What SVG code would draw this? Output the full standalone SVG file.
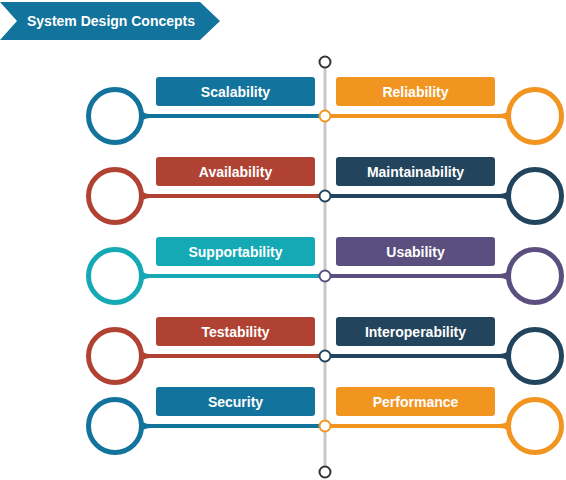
<svg xmlns="http://www.w3.org/2000/svg" width="566" height="480" viewBox="0 0 566 480">
<style>
.lbl{font-family:"Liberation Sans",Arial,sans-serif;font-weight:bold;font-size:14px;fill:#fff;text-anchor:middle}
.box{stroke:none}
.ring{fill:#fff;stroke-width:5}
.ln{stroke-width:4;fill:none}
.dot{fill:#fff;stroke-width:2}
.end{fill:#fff;stroke:#333;stroke-width:2}
</style>
<rect width="566" height="480" fill="#fff"/>
<g id="header">
<polygon points="0,2 200,2 220,21 200,40 0,40 17,21" fill="#12739C"/>
<text x="27" y="26" style="font-family:'Liberation Sans',Arial,sans-serif;font-weight:bold;font-size:14px;fill:#fff">System Design Concepts</text>
</g>
<g id="connectors">
<line x1="325" y1="66" x2="325" y2="468" stroke="#C8C8C8" stroke-width="3"/>
<!-- row 1 -->
<line class="ln" x1="142" y1="116" x2="325" y2="116" stroke="#12739C"/>
<path d="M139,108 Q143,114 150,114 L150,118 Q143,118 139,124 Z" fill="#12739C"/>
<line class="ln" x1="325" y1="116" x2="508" y2="116" stroke="#F29420"/>
<path d="M511,108 Q507,114 500,114 L500,118 Q507,118 511,124 Z" fill="#F29420"/>
<!-- row 2 -->
<line class="ln" x1="142" y1="196" x2="325" y2="196" stroke="#B04233"/>
<path d="M139,188 Q143,194 150,194 L150,198 Q143,198 139,204 Z" fill="#B04233"/>
<line class="ln" x1="325" y1="196" x2="508" y2="196" stroke="#22445C"/>
<path d="M511,188 Q507,194 500,194 L500,198 Q507,198 511,204 Z" fill="#22445C"/>
<!-- row 3 -->
<line class="ln" x1="142" y1="276" x2="325" y2="276" stroke="#14A9B5"/>
<path d="M139,268 Q143,274 150,274 L150,278 Q143,278 139,284 Z" fill="#14A9B5"/>
<line class="ln" x1="325" y1="276" x2="508" y2="276" stroke="#5B4F80"/>
<path d="M511,268 Q507,274 500,274 L500,278 Q507,278 511,284 Z" fill="#5B4F80"/>
<!-- row 4 -->
<line class="ln" x1="142" y1="356" x2="325" y2="356" stroke="#B04233"/>
<path d="M139,348 Q143,354 150,354 L150,358 Q143,358 139,364 Z" fill="#B04233"/>
<line class="ln" x1="325" y1="356" x2="508" y2="356" stroke="#22445C"/>
<path d="M511,348 Q507,354 500,354 L500,358 Q507,358 511,364 Z" fill="#22445C"/>
<!-- row 5 -->
<line class="ln" x1="142" y1="426" x2="325" y2="426" stroke="#12739C"/>
<path d="M139,418 Q143,424 150,424 L150,428 Q143,428 139,434 Z" fill="#12739C"/>
<line class="ln" x1="325" y1="426" x2="508" y2="426" stroke="#F29420"/>
<path d="M511,418 Q507,424 500,424 L500,428 Q507,428 511,434 Z" fill="#F29420"/>
<circle class="dot" cx="325" cy="116" r="5.5" stroke="#F29420"/>
<circle class="dot" cx="325" cy="196" r="5.5" stroke="#22445C"/>
<circle class="dot" cx="325" cy="276" r="5.5" stroke="#5B4F80"/>
<circle class="dot" cx="325" cy="356" r="5.5" stroke="#22445C"/>
<circle class="dot" cx="325" cy="426" r="5.5" stroke="#F29420"/>
<circle class="end" cx="325" cy="62" r="5.5"/>
<circle class="end" cx="325" cy="472" r="5.5"/>
</g>
<g id="scalability">
<rect class="box" x="156" y="77" width="159" height="29" rx="3" fill="#12739C"/>
<text class="lbl" x="235.5" y="96.5">Scalability</text>
<circle class="ring" cx="115" cy="116" r="26.5" stroke="#12739C"/>
</g>
<g id="reliability">
<rect class="box" x="336" y="77" width="159" height="29" rx="3" fill="#F29420"/>
<text class="lbl" x="415.5" y="96.5">Reliability</text>
<circle class="ring" cx="535" cy="116" r="26.5" stroke="#F29420"/>
</g>
<g id="availability">
<rect class="box" x="156" y="157" width="159" height="29" rx="3" fill="#B04233"/>
<text class="lbl" x="235.5" y="176.5">Availability</text>
<circle class="ring" cx="115" cy="196" r="26.5" stroke="#B04233"/>
</g>
<g id="maintainability">
<rect class="box" x="336" y="157" width="159" height="29" rx="3" fill="#22445C"/>
<text class="lbl" x="415.5" y="176.5">Maintainability</text>
<circle class="ring" cx="535" cy="196" r="26.5" stroke="#22445C"/>
</g>
<g id="supportability">
<rect class="box" x="156" y="237" width="159" height="29" rx="3" fill="#14A9B5"/>
<text class="lbl" x="235.5" y="256.5">Supportability</text>
<circle class="ring" cx="115" cy="276" r="26.5" stroke="#14A9B5"/>
</g>
<g id="usability">
<rect class="box" x="336" y="237" width="159" height="29" rx="3" fill="#5B4F80"/>
<text class="lbl" x="415.5" y="256.5">Usability</text>
<circle class="ring" cx="535" cy="276" r="26.5" stroke="#5B4F80"/>
</g>
<g id="testability">
<rect class="box" x="156" y="317" width="159" height="29" rx="3" fill="#B04233"/>
<text class="lbl" x="235.5" y="336.5">Testability</text>
<circle class="ring" cx="115" cy="356" r="26.5" stroke="#B04233"/>
</g>
<g id="interoperability">
<rect class="box" x="336" y="317" width="159" height="29" rx="3" fill="#22445C"/>
<text class="lbl" x="415.5" y="336.5">Interoperability</text>
<circle class="ring" cx="535" cy="356" r="26.5" stroke="#22445C"/>
</g>
<g id="security">
<rect class="box" x="156" y="387" width="159" height="29" rx="3" fill="#12739C"/>
<text class="lbl" x="235.5" y="406.5">Security</text>
<circle class="ring" cx="115" cy="426" r="26.5" stroke="#12739C"/>
</g>
<g id="performance">
<rect class="box" x="336" y="387" width="159" height="29" rx="3" fill="#F29420"/>
<text class="lbl" x="415.5" y="406.5">Performance</text>
<circle class="ring" cx="535" cy="426" r="26.5" stroke="#F29420"/>
</g>
</svg>
